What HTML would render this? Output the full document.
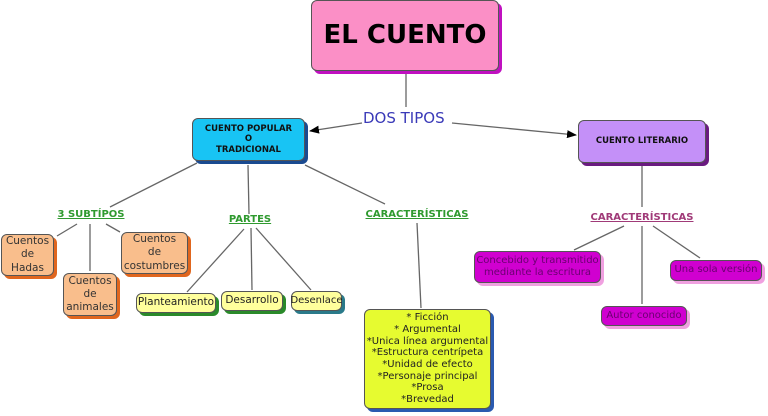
<!DOCTYPE html>
<html><head><meta charset="utf-8"><style>
body{margin:0;width:768px;height:416px;background:#fff;position:relative;overflow:hidden;font-family:"DejaVu Sans","Liberation Sans",sans-serif}
.b{position:absolute;box-sizing:border-box;border:1px solid #555;border-radius:6px;display:flex;align-items:center;justify-content:center;text-align:center;line-height:1.25;white-space:nowrap}
.l{position:absolute;font-weight:bold;text-decoration:underline;font-size:10px;transform:translateX(-50%);white-space:nowrap}
svg{position:absolute;left:0;top:0}
</style></head><body>
<svg width="768" height="416"><defs><marker id="a" markerWidth="10" markerHeight="8" refX="9" refY="4" orient="auto" markerUnits="userSpaceOnUse"><path d="M0,0L10,4L0,8z" fill="#000"/></marker></defs>
<g stroke="#666" stroke-width="1.3" fill="none">
<line x1="406" y1="74" x2="406" y2="107"/>
<line x1="362" y1="123" x2="310" y2="131" marker-end="url(#a)"/>
<line x1="452" y1="123" x2="576" y2="135" marker-end="url(#a)"/>
<line x1="197" y1="163" x2="110" y2="207"/>
<line x1="248" y1="165" x2="249" y2="214"/>
<line x1="305" y1="165" x2="385" y2="204"/>
<line x1="77" y1="224" x2="57" y2="236"/>
<line x1="90" y1="224" x2="90" y2="271"/>
<line x1="106" y1="224" x2="120" y2="232"/>
<line x1="244" y1="229" x2="187" y2="292"/>
<line x1="251" y1="228" x2="252" y2="290"/>
<line x1="256" y1="228" x2="311" y2="290"/>
<line x1="417" y1="223" x2="421" y2="308"/>
<line x1="642" y1="165" x2="642" y2="207"/>
<line x1="624" y1="226" x2="574" y2="250"/>
<line x1="642" y1="226" x2="642" y2="304"/>
<line x1="653" y1="226" x2="700" y2="258"/>
</g></svg>
<div class="b" style="left:311px;top:0;width:188px;height:71px;background:#fb8fc6;box-shadow:3px 3px 0 #c010c0;font-size:26px;font-weight:bold;color:#000">EL CUENTO</div>
<div style="position:absolute;left:363px;top:109px;font-size:15px;color:#3a3ab8;font-family:'DejaVu Sans',sans-serif">DOS TIPOS</div>
<div class="b" style="left:192px;top:118px;width:113px;height:43px;background:#18c4f4;box-shadow:3px 3px 0 #1a4a90;font-size:8.5px;font-weight:bold;color:#111">CUENTO POPULAR<br>O<br>TRADICIONAL</div>
<div class="b" style="left:578px;top:120px;width:128px;height:43px;background:#c490f8;box-shadow:3px 3px 0 #6a1a80;font-size:8.5px;font-weight:bold;color:#111">CUENTO LITERARIO</div>
<div class="l" style="left:91px;top:209px;color:#2f9a2f">3 SUBTÍPOS</div>
<div class="l" style="left:250px;top:214px;color:#2f9a2f">PARTES</div>
<div class="l" style="left:417px;top:209px;color:#2f9a2f">CARACTERÍSTICAS</div>
<div class="l" style="left:642px;top:212px;color:#a03a78">CARACTERÍSTICAS</div>
<div class="b" style="left:1px;top:234px;width:53px;height:42px;background:#f9be8c;box-shadow:3px 3px 0 #e0661e;font-size:10.5px;color:#333">Cuentos<br>de<br>Hadas</div>
<div class="b" style="left:63px;top:273px;width:54px;height:43px;background:#f9be8c;box-shadow:3px 3px 0 #e0661e;font-size:10.5px;color:#333">Cuentos<br>de<br>animales</div>
<div class="b" style="left:121px;top:232px;width:67px;height:42px;background:#f9be8c;box-shadow:3px 3px 0 #e0661e;font-size:10.5px;color:#333">Cuentos<br>de<br>costumbres</div>
<div class="b" style="left:136px;top:293px;width:80px;height:20px;background:#ffff9c;box-shadow:3px 3px 0 #2a8a2a;font-size:10.5px;color:#222">Planteamiento</div>
<div class="b" style="left:221px;top:291px;width:62px;height:20px;background:#ffff9c;box-shadow:3px 3px 0 #2a8a2a;font-size:10.5px;color:#222">Desarrollo</div>
<div class="b" style="left:291px;top:291px;width:51px;height:20px;background:#ffff9c;box-shadow:3px 3px 0 #2a7a8a;font-size:10px;color:#222">Desenlace</div>
<div class="b" style="left:364px;top:309px;width:127px;height:100px;background:#e6fb30;box-shadow:3px 3px 0 #2a5ab0;font-size:10px;line-height:11.7px;color:#222">* Ficción<br>* Argumental<br>*Unica línea argumental<br>*Estructura centrípeta<br>*Unidad de efecto<br>*Personaje principal<br>*Prosa<br>*Brevedad</div>
<div class="b" style="left:474px;top:251px;width:127px;height:32px;background:#d000d0;box-shadow:3px 3px 0 #f0a0e0;font-size:10px;color:#6a0070">Concebido y transmitido<br>mediante la escritura</div>
<div class="b" style="left:670px;top:260px;width:92px;height:21px;background:#d000d0;box-shadow:3px 3px 0 #f0a0e0;font-size:10px;color:#6a0070">Una sola versión</div>
<div class="b" style="left:601px;top:306px;width:86px;height:20px;background:#d000d0;box-shadow:3px 3px 0 #f0a0e0;font-size:10px;color:#6a0070">Autor conocido</div>
</body></html>
